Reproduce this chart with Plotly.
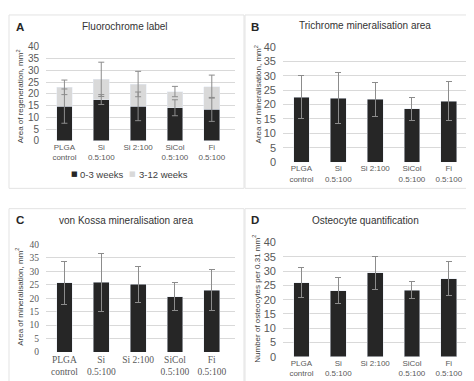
import plotly.graph_objects as go

W, H = 474, 381

categories = ["PLGA<br>control", "Si<br>0.5:100", "Si 2:100", "SiCol<br>0.5:100", "Fi<br>0.5:100"]
y_ticks = [0, 5, 10, 15, 20, 25, 30, 35, 40]
series_names = ["0-3 weeks", "3-12 weeks"]

# Panel A: fluorochrome label (stacked)
fluoro_0_3 = [14.8, 17.6, 14.7, 14.1, 13.4]
fluoro_0_3_err = [7.3, 2.1, 6.1, 3.4, 5.1]
fluoro_3_12 = [8.0, 8.6, 9.5, 6.9, 9.7]
fluoro_3_12_err = [3.1, 7.3, 5.4, 2.2, 4.9]

# Panel B: trichrome mineralisation area
trichrome = [22.6, 22.2, 21.8, 18.5, 21.2]
trichrome_err = [7.6, 8.9, 6.0, 4.0, 6.8]

# Panel C: von Kossa mineralisation area
vonkossa = [25.7, 25.9, 25.2, 20.6, 23.0]
vonkossa_err = [8.1, 10.7, 6.8, 5.3, 7.6]

# Panel D: osteocyte quantification
osteocyte = [25.9, 23.2, 29.4, 23.3, 27.3]
osteocyte_err = [5.3, 4.5, 5.7, 3.0, 6.0]

DARK = "#262626"
LIGHT = "#d9d9d9"
ERR = "#8c8c8c"
GRID = "#d9d9d9"
TICK = "#595959"
SANS = "Liberation Sans, Arial, sans-serif"
SERIF = "Liberation Serif, Times New Roman, serif"

def fx(px):
    return px / W

def fy(py):
    return 1 - py / H

xpos = list(range(5))
stack_top = [a + b for a, b in zip(fluoro_0_3, fluoro_3_12)]

fig = go.Figure()

def err(vals):
    return dict(type="data", array=vals, visible=True, color=ERR, thickness=1, width=3)

# Panel A (stacked bars; error bars overlaid on top so they show through)
fig.add_trace(go.Bar(x=xpos, y=fluoro_0_3, name=series_names[0], marker_color=DARK, width=0.43,
                     xaxis="x", yaxis="y"))
fig.add_trace(go.Bar(x=xpos, y=fluoro_3_12, name=series_names[1], marker_color=LIGHT, width=0.43,
                     xaxis="x", yaxis="y"))
fig.add_trace(go.Scatter(x=xpos, y=fluoro_0_3, mode="markers", marker=dict(opacity=0, size=1),
                         error_y=err(fluoro_0_3_err), xaxis="x", yaxis="y", hoverinfo="skip"))
fig.add_trace(go.Scatter(x=xpos, y=stack_top, mode="markers", marker=dict(opacity=0, size=1),
                         error_y=err(fluoro_3_12_err), xaxis="x", yaxis="y", hoverinfo="skip"))
# Panel B
fig.add_trace(go.Bar(x=xpos, y=trichrome, marker_color=DARK, width=0.43,
                     error_y=err(trichrome_err), xaxis="x2", yaxis="y2"))
# Panel C
fig.add_trace(go.Bar(x=xpos, y=vonkossa, marker_color=DARK, width=0.43,
                     error_y=err(vonkossa_err), xaxis="x3", yaxis="y3"))
# Panel D
fig.add_trace(go.Bar(x=xpos, y=osteocyte, marker_color=DARK, width=0.43,
                     error_y=err(osteocyte_err), xaxis="x4", yaxis="y4"))

panels = {
    # name: (x0, x1, ytop, ybottom, tick family, tick size, category size)
    "1": (38, 227, 34, 131, SANS, 10, 8),
    "2": (275, 464, 34, 153, SANS, 11, 8),
    "3": (38, 227, 238, 349, SERIF, 9.5, 9.5),
    "4": (275, 464, 236, 354, SANS, 11, 8),
}

layout = dict(
    width=W, height=H, autosize=False,
    margin=dict(l=0, r=0, t=0, b=0),
    paper_bgcolor="white", plot_bgcolor="white",
    barmode="stack",
    showlegend=False,
)

for k, (x0, x1, yt, yb, tfam, tsize, csize) in panels.items():
    xs = "xaxis" if k == "1" else "xaxis" + k
    ys = "yaxis" if k == "1" else "yaxis" + k
    ya = "y" if k == "1" else "y" + k
    xa = "x" if k == "1" else "x" + k
    layout[xs] = dict(domain=[fx(x0), fx(x1)], anchor=ya, range=[-0.5, 4.63],
                      tickmode="array", tickvals=xpos, ticktext=categories,
                      showgrid=False, zeroline=False, showline=False, ticks="",
                      tickfont=dict(family=tfam, size=csize, color=TICK),
                      fixedrange=True)
    layout[ys] = dict(domain=[fy(yb), fy(yt)], anchor=xa, range=[0, 40],
                      tickmode="array", tickvals=y_ticks,
                      showgrid=True, gridcolor=GRID, gridwidth=1, zeroline=False,
                      showline=False, ticks="", ticklabelstandoff=6,
                      tickfont=dict(family=tfam, size=tsize, color=TICK), fixedrange=True)

fig.update_layout(**layout)

# panel frames
frames = [(1, 236, 1, 180), (237, 473, 1, 180), (1, 236, 201, 380), (237, 473, 201, 380)]
for (a, b, c, d) in frames:
    fig.add_shape(type="rect", xref="paper", yref="paper", x0=fx(a), x1=fx(b), y0=fy(d), y1=fy(c),
                  line=dict(color="#e3e3e3", width=1), fillcolor="rgba(0,0,0,0)", layer="below")

# legend for panel A: colour keys and labels
for name, col, sx, tx in [(series_names[0], DARK, 66, 70), (series_names[1], LIGHT, 124.5, 128.5)]:
    fig.add_annotation(text="■", x=fx(sx), y=fy(165.5), xref="paper", yref="paper",
                       showarrow=False, xanchor="center", yanchor="middle",
                       font=dict(family="DejaVu Sans", size=7, color=col))
    fig.add_annotation(text=name, x=fx(tx), y=fy(165.5), xref="paper", yref="paper",
                       showarrow=False, xanchor="left", yanchor="middle",
                       font=dict(family=SANS, size=9.5, color="#404040"))

for txt, x, y in [("A", 12, 13), ("B", 247, 13), ("C", 12, 213), ("D", 247, 213)]:
    fig.add_annotation(text=f"<b>{txt}</b>", x=fx(x), y=fy(y), xref="paper", yref="paper",
                       showarrow=False, xanchor="center", yanchor="middle",
                       font=dict(family=SANS, size=11.5, color="#262626"))

titles = [("Fluorochrome label", 117, 13), ("Trichrome mineralisation area", 357, 12),
          ("von Kossa mineralisation area", 118, 213), ("Osteocyte quantification", 357, 213)]
for txt, x, y in titles:
    fig.add_annotation(text=txt, x=fx(x), y=fy(y), xref="paper", yref="paper",
                       showarrow=False, xanchor="center", yanchor="middle",
                       font=dict(family=SANS, size=10, color="#333333"))

ytitles = [("Area of regeneration, mm<sup>2</sup>", 12, 85),
           ("Area of mineralisation, mm<sup>2</sup>", 250, 83),
           ("Area of mineralisation, mm<sup>2</sup>", 11, 292),
           ("Number of osteocytes per 0.31 mm<sup>2</sup>", 248, 294)]
for txt, x, y in ytitles:
    fig.add_annotation(text=txt, x=fx(x), y=fy(y), xref="paper", yref="paper",
                       showarrow=False, xanchor="center", yanchor="middle", textangle=-90,
                       font=dict(family=SANS, size=8, color="#404040"))

fig.write_html("out.html")
